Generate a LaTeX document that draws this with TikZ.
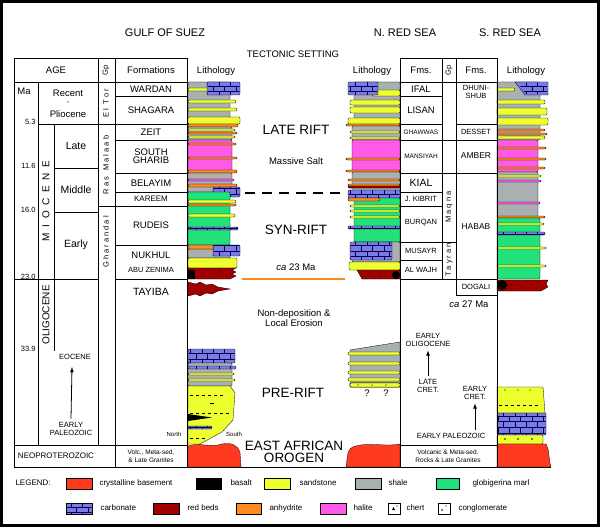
\documentclass[tikz,border=0pt]{standalone}
\usepackage{fontspec}
\setmainfont{Liberation Sans}
\usetikzlibrary{patterns}
\definecolor{bas}{HTML}{FF3B1F}
\definecolor{sand}{HTML}{EEFF30}
\definecolor{shale}{HTML}{A9B0B0}
\definecolor{glob}{HTML}{22E07A}
\definecolor{carb}{HTML}{7B7BE6}
\definecolor{redb}{HTML}{A00000}
\definecolor{anh}{HTML}{FF8A1E}
\definecolor{hal}{HTML}{FF5AE6}
\newcommand{\st}[5]{\draw[fill=#1,line width=.3pt,rounded corners=1.2pt] (#4,#2) rectangle (#5,#3);}
\newcommand{\cb}[4]{\draw[fill=carb,line width=.3pt,rounded corners=1.2pt] (#1,#2) rectangle (#3,#4);\fill[pattern=bricks,pattern color=blue!30!black] (#1+.5,#2+.5) rectangle (#3-.5,#4-.5);}
\tikzset{
 lb/.style={font=\fontsize{9.5}{10}\selectfont},
 sm/.style={font=\fontsize{7.5}{8.5}\selectfont},
 ti/.style={font=\fontsize{11}{12}\selectfont},
 big/.style={font=\fontsize{13.5}{14}\selectfont},
 vt/.style={font=\fontsize{7.5}{8}\selectfont,rotate=90},
 tb/.style={line width=.7pt},
 lg/.style={font=\fontsize{8}{9}\selectfont,anchor=west},
 lbox/.style={draw,line width=.4pt},
}
\begin{document}
\begin{tikzpicture}[x=1pt,y=-1pt]
\useasboundingbox (0,0) rectangle (600,527);
\fill[white] (0,0) rectangle (600,527);
\draw[line width=3pt] (1.5,1.5) rectangle (598.5,525.5);
% titles
\node[ti] (t1) at (165,33) {GULF OF SUEZ};
\node[ti] (t2) at (405,33) {N. RED SEA};
\node[ti] (t3) at (510,33) {S. RED SEA};
\node[lb] (t4) at (293,54) {TECTONIC SETTING};
% ---------- lithology GoS ----------
\st{shale}{82}{124}{188}{230}
\st{sand}{88}{91}{188}{233}\st{sand}{100}{103}{188}{236}\st{sand}{108}{111}{188}{237}\st{sand}{117}{124}{188}{240}
\cb{207}{82}{240}{95}
\st{anh}{124}{127}{188}{238}
\st{shale}{127}{140}{188}{232}\st{sand}{129}{131}{188}{235}\st{anh}{132}{134}{188}{237}\st{sand}{136}{138}{188}{235}
\st{hal}{140}{172}{188}{232}\st{anh}{143}{145}{188}{236}\st{anh}{157}{159}{188}{237}\st{anh}{170}{173}{188}{237}
\st{shale}{173}{192}{188}{232}\st{hal}{179}{181}{188}{234}\st{anh}{184}{187}{188}{237}
\cb{213}{187}{240}{197}
\st{glob}{192}{245}{188}{230}\st{sand}{200}{203}{188}{236}\st{anh}{204}{206}{188}{236}\st{sand}{214}{217}{188}{235}
\cb{188}{227}{238}{230}
\st{shale}{249}{258}{188}{230}\st{anh}{245}{249}{188}{214}
\cb{213}{245}{240}{256}
\st{sand}{258}{268}{188}{237}
\draw[fill=redb,line width=.3pt] (188,268)--(236,268)--(232,270)--(236,272)--(232,274)--(236,276)--(230,279)--(188,279)--cycle;
\foreach \p in {(200,272),(210,274),(220,271),(226,275)} \fill[black] \p circle (.7);
\fill[black] (188,270) rectangle (195,279);
% Tayiba wedge
\draw[fill=redb,line width=.3pt] (188,282)--(196,284)--(200,282)--(206,285)--(212,284)--(218,287)--(230,289)--(218,291)--(212,294)--(206,293)--(200,296)--(196,294)--(188,296)--cycle;
% pre-rift GoS
\cb{188}{349}{235}{363}
\st{shale}{363}{386}{188}{232}
\cb{188}{366}{236}{369}
\st{sand}{373}{375}{188}{234}\st{sand}{379}{381}{188}{235}
\draw[fill=sand,line width=.3pt] (188,386)--(230,386)--(235,393)--(233,420)--(222,432)--(200,444)--(188,444)--cycle;
\foreach \yy/\xe in {395/226,413/230,438/205} \draw[dashed,line width=.6pt] (190,\yy)--(\xe,\yy);
\draw[line width=.6pt] (210,403)--(214,403);
\fill[black] (188,414)--(212,417.5)--(188,421)--cycle;
\cb{188}{426}{212}{429}
% ---------- lithology N ----------
\st{shale}{82}{124}{354}{400}
\st{sand}{90}{96}{372}{400}\st{sand}{100}{105}{350}{400}\st{sand}{107}{113}{350}{400}\st{sand}{118}{124}{348}{400}
\cb{348}{82}{378}{95}
\st{anh}{124}{126}{346}{400}
\st{shale}{126}{140}{352}{400}\st{sand}{131}{133}{350}{400}\st{sand}{137}{139}{350}{400}
\st{hal}{140}{172}{352}{400}\st{anh}{158}{160}{346}{400}\st{anh}{170}{172}{346}{400}
\st{shale}{172}{198}{352}{400}\st{anh}{179}{181}{348}{400}\st{anh}{184}{186}{348}{400}\st{redb}{186}{188}{348}{400}
\cb{348}{190}{400}{198}
\st{glob}{198}{242}{354}{400}\st{anh}{198}{201}{348}{380}
\st{sand}{205}{207}{350}{400}\st{sand}{210}{212}{350}{400}\st{sand}{216}{218}{350}{400}
\cb{348}{226}{400}{229}
\st{shale}{242}{262}{352}{400}
\cb{350}{242}{392}{260}
\st{sand}{262}{270}{349}{400}
\draw[fill=redb,line width=.3pt] (357,270)--(400,270)--(400,279)--(362,279)--cycle;
\foreach \p in {(370,273),(380,275),(388,272)} \fill[black] \p circle (.7);
\fill[black] (396,275) circle (4);
% pre-rift N
\draw[fill=shale,line width=.3pt] (350,350)--(400,342)--(400,387)--(350,387)--cycle;
\foreach \a/\b in {352/355,362/365,371/374,378/381} \st{sand}{\a}{\b}{348}{400}
\st{sand}{383}{387}{350}{400}
\foreach \xx in {358,372,386} \fill (\xx,385) circle (.7);
% ---------- lithology S ----------
\st{shale}{82}{140}{497}{540}
\st{sand}{88}{91}{497}{515}\st{sand}{100}{104}{497}{545}\st{sand}{108}{115}{497}{547}\st{sand}{118}{125}{497}{548}
\draw[fill=carb,line width=.3pt] (515,82)--(548,82)--(548,95)--(525,95)--cycle;
\fill[pattern=bricks,pattern color=blue!30!black] (518,83)--(547,83)--(547,94)--(526,94)--cycle;
\st{anh}{129}{131}{497}{545}\st{anh}{133}{135}{497}{547}\st{sand}{136}{139}{497}{545}
\st{hal}{140}{172}{497}{538}\st{anh}{147}{149}{497}{546}\st{anh}{158}{160}{497}{546}\st{anh}{167}{169}{497}{545}
\st{shale}{172}{218}{497}{538}\st{sand}{175}{177}{497}{541}\st{hal}{180}{182}{497}{541}\st{hal}{202}{204}{497}{540}\st{anh}{216}{218}{497}{545}
\st{glob}{218}{279}{497}{540}\st{sand}{223}{225}{497}{544}
\cb{497}{232}{545}{235}
\st{sand}{247}{249}{497}{546}\st{sand}{265}{267}{497}{546}
\draw[fill=redb,line width=.3pt] (497,280)--(548,280)--(546,284)--(548,287)--(541,291)--(497,291)--cycle;
\foreach \p in {(512,285),(522,287),(532,284)} \fill[black] \p circle (.7);
\fill[black] (502,285) circle (5);
% pre-rift S
\draw[fill=sand,line width=.3pt] (497,387)--(543,387)--(545,413)--(497,413)--cycle;
\foreach \xx in {505,518,530} \fill (\xx,390) circle (.7);
\draw[dashed,line width=.6pt] (499,405)--(541,405);
\cb{497}{413}{546}{435}
\st{sand}{435}{444}{497}{543}
\foreach \xx in {505,518,532} \fill (\xx,439) circle (.8);
% basements
\draw[fill=bas,line width=.3pt] (188,467)--(188,446) .. controls (200,442) and (210,448) .. (222,444) .. controls (232,442) and (238,446) .. (240,452)--(241,467)--cycle;
\draw[fill=bas,line width=.3pt] (346,467) .. controls (348,456) and (346,448) .. (356,446) .. controls (370,442) and (385,447) .. (400,444)--(400,467)--cycle;
\draw[fill=bas,line width=.3pt] (497,467)--(497,444)--(546,444) .. controls (550,450) and (548,458) .. (551,467)--cycle;
% ---------- left table ----------
\draw[tb] (14,58) rectangle (187,467);
\draw[tb] (14,82)--(187,82) (14,445)--(187,445);
\draw[tb] (98,58)--(98,445) (115,58)--(115,467) (187,58)--(187,467);
\draw[tb] (38,82)--(38,445) (38,124)--(187,124) (54,124)--(54,279) (54,168)--(98,168) (54,212)--(98,212) (14,279)--(98,279) (54,279)--(54,351);
\draw[tb] (115,96)--(187,96) (115,140)--(187,140) (115,173)--(187,173) (115,192)--(187,192) (98,206)--(187,206) (115,245)--(187,245) (115,279)--(187,279);
\node[lb] (hage) at (56,70) {AGE};
\node[vt] (hgp) at (106,70) {Gp};
\node[lb] (hfm) at (151,70) {Formations};
\node[lb] (hl1) at (216,71) {Lithology};
\node[lb] (ma) at (24,91) {Ma};
\node[lb,inner sep=1pt] (rp1) at (68,93) {Recent};
\node[sm,inner sep=0pt] (rp2) at (68,103.5) {-};
\node[lb,inner sep=1pt] (rp3) at (68,114) {Pliocene};
\foreach \n/\v/\yy in {a/5.3/124,b/11.6/168,c/16.0/212,d/23.0/279,e/33.9/351} \node[sm,anchor=east] (age\n) at (39,\yy-2) {\v};
\node[lb,font=\fontsize{10.5}{11}\selectfont] (late) at (76,146) {Late};
\node[lb,font=\fontsize{10.5}{11}\selectfont] (mid) at (76,190) {Middle};
\node[lb,font=\fontsize{10.5}{11}\selectfont] (early) at (76,245) {Early};
\node[vt,font=\fontsize{10}{11}\selectfont] (mio) at (46,201) {M\ \ I\ \ O\ \ C\ \ E\ \ N\ \ E};
\node[vt,font=\fontsize{10}{11}\selectfont] (oli) at (46,315) {OLIGOCENE};
\node[vt] (g1) at (106,103) {E l \ T o r};
\node[vt] (g2) at (106,165) {R a s \ \ M a l a a b};
\node[vt] (g3) at (106,242) {G h a r a n d a l};
\node[lb] (f1) at (151,89) {WARDAN};
\node[lb] (f2) at (151,110) {SHAGARA};
\node[lb] (f3) at (151,132) {ZEIT};
\node[lb,align=center] (f4) at (151,156) {SOUTH\\[-2pt]GHARIB};
\node[lb] (f5) at (151,183) {BELAYIM};
\node[sm,font=\fontsize{8}{9}\selectfont] (f6) at (151,199) {KAREEM};
\node[lb] (f7) at (151,225) {RUDEIS};
\node[lb] (f8) at (151,255) {NUKHUL};
\node[sm] (f9) at (151,270) {ABU ZENIMA};
\node[lb,font=\fontsize{10.5}{11}\selectfont] (f10) at (151,292) {TAYIBA};
\node[sm] (eoc) at (75,357) {EOCENE};
\node[sm,align=center] (epz) at (71,429) {EARLY\\PALEOZOIC};
\draw[-latex,line width=.8pt] (epz.north)--(72,367);
\node[sm,font=\fontsize{8}{9}\selectfont] (neo) at (56,456) {NEOPROTEROZOIC};
\node[sm,align=center,font=\fontsize{6.5}{7.5}\selectfont] (volc) at (151,456) {Volc., Meta-sed,\\\& Late Granites};
\node[sm,font=\fontsize{6}{7}\selectfont] (no) at (174,434) {North};
\node[sm,font=\fontsize{6}{7}\selectfont] (so) at (234,434) {South};
% ---------- center ----------
\node[big] (lr) at (296,130) {LATE RIFT};
\node[lb] (ms) at (296,161) {Massive Salt};
\coordinate (da) at (245,193); \coordinate (db) at (340,193);
\draw[dashed,line width=1.5pt,dash pattern=on 10pt off 7pt] (da)--(db);
\node[big] (sr) at (296,230) {SYN-RIFT};
\node[lb] (ca23) at (296,267) {\textit{ca} 23 Ma};
\coordinate (oa) at (242,279); \coordinate (ob) at (345,279);
\draw[anh,line width=1.5pt] (oa)--(ob);
\node[lb,align=center] (nd) at (294,318) {Non-deposition \&\\Local Erosion};
\node[big] (pr) at (293,393) {PRE-RIFT};
\node[lb] (q1) at (367,393) {?};
\node[lb] (q2) at (386,393) {?};
\node[big,align=center] (eao) at (294,452) {EAST AFRICAN\\[-2pt]OROGEN};
% ---------- right table ----------
\draw[tb] (400,58) rectangle (497,467);
\draw[tb] (400,82)--(497,82) (400,445)--(497,445) (442,58)--(442,279) (456,58)--(456,279) (456,279)--(456,295)--(497,295);
\draw[tb] (400,96)--(442,96) (400,124)--(442,124) (400,140)--(497,140) (456,124)--(497,124) (400,173)--(497,173) (400,192)--(442,192) (400,206)--(442,206) (400,242)--(456,242) (400,260)--(442,260) (400,279)--(497,279);
\node[lb] (nf) at (421,70) {Fms.};
\node[vt] (ngp) at (449,70) {Gp};
\node[lb] (sf) at (476,70) {Fms.};
\node[lb] (hl2) at (372,71) {Lithology};
\node[lb] (hl3) at (526,71) {Lithology};
\node[lb] (n1) at (421,89) {IFAL};
\node[lb] (n2) at (421,110) {LISAN};
\node[sm,font=\fontsize{6.5}{7}\selectfont] (n3) at (421,132) {GHAWWAS};
\node[sm,font=\fontsize{6.5}{7}\selectfont] (n4) at (421,156) {MANSIYAH};
\node[lb,font=\fontsize{10.5}{11}\selectfont] (n5) at (421,183) {KIAL};
\node[sm] (n6) at (421,199) {J. KIBRIT};
\node[sm] (n7) at (421,223) {BURQAN};
\node[sm] (n8) at (421,251) {MUSAYR};
\node[sm] (n9) at (421,270) {AL WAJH};
\node[vt] (gm) at (449,207) {M a q n a};
\node[vt] (gt) at (449,260) {T a y r a n};
\node[sm,align=center] (s1) at (476,92) {DHUNI-\\SHUB};
\node[sm] (s2) at (476,132) {DESSET};
\node[lb,font=\fontsize{8.5}{9}\selectfont] (s3) at (476,156) {AMBER};
\node[lb,font=\fontsize{8.5}{9}\selectfont] (s4) at (476,227) {HABAB};
\node[sm] (s5) at (476,287) {DOGALI};
\node[lb] (ca27) at (469,304) {\textit{ca} 27 Ma};
\node[sm,align=center] (eo) at (428,340) {EARLY\\OLIGOCENE};
\node[sm,align=center] (lc) at (428,386) {LATE\\CRET.};
\draw[-latex,line width=.8pt] (lc.north)--(eo.south);
\node[sm,align=center] (ec) at (475,393) {EARLY\\CRET.};
\node[sm,font=\fontsize{7.5}{8}\selectfont] (ep2) at (451,436) {EARLY PALEOZOIC};
\draw[-latex,line width=.8pt] (475,430)--(ec.south);
\node[sm,align=center,font=\fontsize{6.5}{7.5}\selectfont] (volc2) at (448,456) {Volcanic \& Meta-sed.\\Rocks \& Late Granites};
\draw[tb] (14,467)--(551,467);
% ---------- legend ----------
\node[lg] (lgd) at (12,483) {LEGEND:};
\draw[lbox,fill=bas] (66,478) rectangle (92,489); \node[lg] (l1) at (96,483) {crystalline basement};
\draw[lbox,fill=black] (196,478) rectangle (221,489); \node[lg] (l2) at (227,483) {basalt};
\draw[lbox,fill=sand] (264,478) rectangle (290,489); \node[lg] (l3) at (296,483) {sandstone};
\draw[lbox,fill=shale] (355,478) rectangle (381,489); \node[lg] (l4) at (385,483) {shale};
\draw[lbox,fill=glob] (436,478) rectangle (459,489); \node[lg] (l5) at (469,483) {globigerina marl};
\draw[lbox,fill=carb] (66,503) rectangle (92,514); \fill[pattern=bricks,pattern color=blue!30!black] (66.5,503.5) rectangle (91.5,513.5);
\node[lg] (l6) at (97,508) {carbonate};
\draw[lbox,fill=redb] (153,503) rectangle (179,514); \node[lg] (l7) at (184,508) {red beds};
\draw[lbox,fill=anh] (236,503) rectangle (261,514); \node[lg] (l8) at (266,508) {anhydrite};
\draw[lbox,fill=hal] (320,503) rectangle (346,514); \node[lg] (l9) at (350,508) {halite};
\draw[lbox] (388,503) rectangle (400,514); \fill (392,510)--(393.5,507)--(395,510)--cycle; \fill (397,506) circle (.6);
\node[lg] (l10) at (403,508) {chert};
\draw[lbox] (438,503) rectangle (450,514); \fill (442,510) circle (.9); \fill (446,506) circle (.6);
\node[lg] (l11) at (455,508) {conglomerate};
\end{tikzpicture}
\end{document}
